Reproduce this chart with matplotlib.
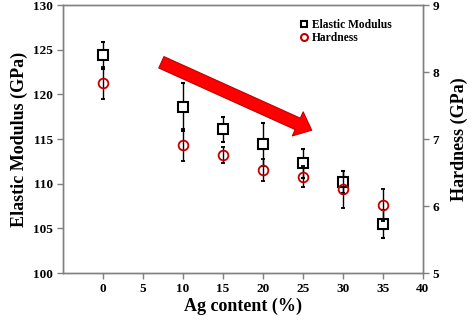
import matplotlib
matplotlib.use("Agg")
import matplotlib.pyplot as plt
from matplotlib.lines import Line2D

plt.rcParams['font.family'] = ['Liberation Serif', 'DejaVu Serif']
plt.rcParams['font.weight'] = 'bold'

ag = [0, 10, 15, 20, 25, 30, 35]
modulus = [124.4, 118.6, 116.1, 114.4, 112.3, 110.2, 105.5]
modulus_err = [1.5, 2.7, 1.4, 2.4, 1.6, 1.2, 1.6]
hardness = [7.84, 6.91, 6.76, 6.54, 6.44, 6.25, 6.01]
hardness_err = [0.24, 0.24, 0.12, 0.16, 0.16, 0.28, 0.24]
x_ticks = [0, 5, 10, 15, 20, 25, 30, 35, 40]
left_ticks = [100, 105, 110, 115, 120, 125, 130]
right_ticks = [5, 6, 7, 8, 9]

fig = plt.figure(figsize=(4.74, 3.22), dpi=100)
ax = fig.add_axes([0.133, 0.152, 0.759, 0.832])
ax2 = ax.twinx()

spine_c = '#808080'
for a in (ax, ax2):
    for s in a.spines.values():
        s.set_color(spine_c)
        s.set_linewidth(1.0)

ax.errorbar(ag, modulus, yerr=modulus_err, fmt='s', ms=7, mfc='white', mec='black',
            mew=1.5, ecolor='black', elinewidth=1.0, capsize=1.5, capthick=1.0, zorder=3)
ax2.errorbar(ag, hardness, yerr=hardness_err, fmt='o', ms=7, mfc='none', mec='#c00000',
             mew=1.3, ecolor='black', elinewidth=1.0, capsize=1.5, capthick=1.0, zorder=3)

ax.set_xlim(-5, 40)
ax.set_ylim(100, 130)
ax2.set_ylim(5, 9)
ax.set_xticks(x_ticks)
ax.set_yticks(left_ticks)
ax2.set_yticks(right_ticks)

for a in (ax, ax2):
    a.tick_params(direction='out', length=4, width=1, color=spine_c, labelsize=9.5, pad=3)
    for lab in a.get_xticklabels() + a.get_yticklabels():
        lab.set_fontweight('bold')

ax.set_xlabel('Ag content (%)', fontsize=13, fontweight='bold', labelpad=2)
ax.set_ylabel('Elastic Modulus (GPa)', fontsize=13, fontweight='bold', labelpad=4)
ax2.set_ylabel('Hardness (GPa)', fontsize=13, fontweight='bold', labelpad=8)

ax.annotate('', xy=(26.1, 116.0), xytext=(7.3, 123.6),
            arrowprops=dict(width=9, headwidth=19, headlength=11, shrink=0,
                            facecolor='#ff0000', edgecolor='#c00000', lw=0.8),
            zorder=4)

handles = [Line2D([], [], marker='s', ls='none', ms=5, mfc='white', mec='black', mew=1.5),
           Line2D([], [], marker='o', ls='none', ms=5, mfc='none', mec='#c00000', mew=1.5)]
ax2.legend(handles, ['Elastic Modulus', 'Hardness'], loc='upper left',
           bbox_to_anchor=(0.64, 0.98), frameon=False, handlelength=0.5,
           handletextpad=0.45, labelspacing=0.12, borderpad=0.2,
           prop={'family': 'Liberation Serif', 'weight': 'bold', 'size': 8.3})

fig.savefig('out.png', dpi=100)
